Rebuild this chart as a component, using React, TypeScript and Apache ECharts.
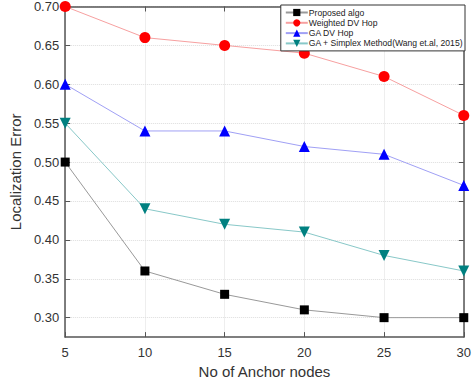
import React, { useEffect, useRef } from "react";
import * as echarts from "echarts";

const anchors = [5, 10, 15, 20, 25, 30];
const proposed = [0.5, 0.36, 0.33, 0.31, 0.3, 0.3];
const weighted = [0.7, 0.66, 0.65, 0.64, 0.61, 0.56];
const gaDvHop = [0.6, 0.54, 0.54, 0.52, 0.51, 0.47];
const gaSimplex = [0.55, 0.44, 0.42, 0.41, 0.38, 0.36];
const yTicks = [0.3, 0.35, 0.4, 0.45, 0.5, 0.55, 0.6, 0.65, 0.7];
const seriesNames = [
  "Proposed algo",
  "Weighted DV Hop",
  "GA DV Hop",
  "GA + Simplex Method(Wang et.al, 2015)",
];

const font = "Liberation Sans, Arial, sans-serif";
const axisColor = "#555";

export default function App() {
  const ref = useRef<HTMLDivElement>(null);
  useEffect(() => {
    if (!ref.current) return;
    const chart = echarts.init(ref.current, undefined, { renderer: "svg" });
    const pair = (ys: number[]) => anchors.map((x, i) => [x, ys[i]]);
    const mk = (
      name: string,
      ys: number[],
      symbol: string,
      size: number,
      mColor: string,
      lColor: string,
      rotate = 0
    ) => ({
      name,
      type: "line",
      data: pair(ys),
      symbol,
      symbolSize: size,
      symbolRotate: rotate,
      clip: false,
      itemStyle: { color: mColor },
      lineStyle: { color: lColor, width: 1 },
      z: 3,
    });
    const baseX = {
      type: "value",
      min: 5,
      max: 30,
      interval: 5,
      axisLine: { show: true, lineStyle: { color: axisColor, width: 1.5 } },
      axisTick: { show: true, inside: true, length: 5, lineStyle: { color: axisColor } },
    };
    const baseY = {
      type: "value",
      min: 0.275,
      max: 0.7,
      axisLine: { show: true, lineStyle: { color: axisColor, width: 1.5 } },
      axisTick: {
        show: true,
        inside: true,
        length: 5,
        customValues: yTicks,
        lineStyle: { color: axisColor },
      },
    };
    chart.setOption({
      animation: false,
      textStyle: { fontFamily: font },
      grid: { left: 54, right: 8, top: 5, bottom: 43 },
      legend: {
        data: seriesNames,
        orient: "vertical",
        right: 9,
        top: 5,
        itemWidth: 22,
        itemHeight: 9,
        itemGap: 1.3,
        padding: [3, 2, 3, 4],
        borderColor: "#333",
        borderWidth: 1,
        backgroundColor: "#fff",
        textStyle: { fontSize: 8.6, color: "#222", fontFamily: font, padding: [0, 0, 0, -4] },
      },
      xAxis: [
        {
          ...baseX,
          position: "bottom",
          name: "No of Anchor nodes",
          nameLocation: "middle",
          nameGap: 24,
          nameTextStyle: { fontSize: 15, color: "#333" },
          axisLabel: { fontSize: 13, color: "#333", margin: 9 },
          splitLine: { show: true, lineStyle: { color: "#ddd", type: "dotted" } },
        },
        {
          ...baseX,
          position: "top",
          axisLabel: { show: false },
          splitLine: { show: false },
        },
      ],
      yAxis: [
        {
          ...baseY,
          position: "left",
          name: "Localization Error",
          nameLocation: "middle",
          nameGap: 38,
          nameTextStyle: { fontSize: 15, color: "#333" },
          axisLabel: {
            fontSize: 13,
            color: "#333",
            customValues: yTicks,
            formatter: (v: number) => v.toFixed(2),
            margin: 6,
          },
          splitLine: { show: true, lineStyle: { color: "#ddd", type: "dotted" } },
        },
        {
          ...baseY,
          position: "right",
          axisLabel: { show: false },
          splitLine: { show: false },
        },
      ],
      series: [
        mk(seriesNames[0], proposed, "rect", 9, "#000", "#999"),
        mk(seriesNames[1], weighted, "circle", 11, "#ff0000", "#f7a0a0"),
        mk(seriesNames[2], gaDvHop, "triangle", 11, "#0000ff", "#a0a0f5"),
        mk(seriesNames[3], gaSimplex, "triangle", 11, "#008080", "#88c8c8", 180),
      ],
    });
    return () => chart.dispose();
  }, []);
  return (
    <div
      ref={ref}
      style={{ position: "absolute", left: 0, top: 0, width: 474, height: 384, background: "#fff" }}
    />
  );
}
